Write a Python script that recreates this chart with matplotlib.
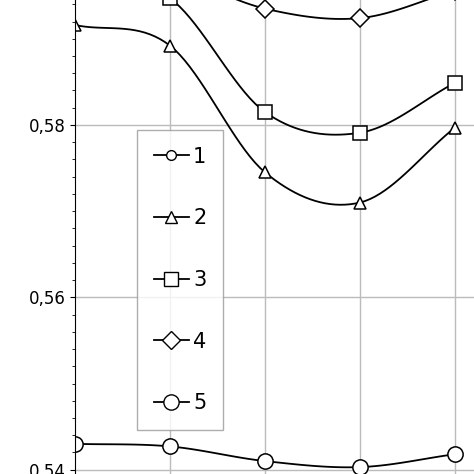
import numpy as np
import matplotlib
matplotlib.use("Agg")
import matplotlib.pyplot as plt

x = [1, 2, 3, 4, 5]
s1 = [0.6010, 0.6020, 0.6000, 0.5990, 0.6005]
s2 = [0.5916, 0.5892, 0.5745, 0.5710, 0.5797]
s3 = [0.5975, 0.5947, 0.5815, 0.5791, 0.5849]
s4 = [0.5990, 0.5975, 0.5935, 0.5924, 0.5956]
s5 = [0.5430, 0.5427, 0.5410, 0.5403, 0.5418]
labels = ["1", "2", "3", "4", "5"]
markers = ["o", "^", "s", "D", "o"]
msizes = [7, 9, 10, 9, 11]

def smooth(xs, ys, n=20):
    xs = np.asarray(xs, float); ys = np.asarray(ys, float)
    m = np.gradient(ys, xs)
    ox, oy = [], []
    for i in range(len(xs) - 1):
        t = np.linspace(0, 1, n)
        h = xs[i+1] - xs[i]
        h00 = 2*t**3 - 3*t**2 + 1; h10 = t**3 - 2*t**2 + t
        h01 = -2*t**3 + 3*t**2; h11 = t**3 - t**2
        ox.extend(xs[i] + t*h)
        oy.extend(h00*ys[i] + h10*h*m[i] + h01*ys[i+1] + h11*h*m[i+1])
    return ox, oy

fig = plt.figure(figsize=(4.74, 4.74), dpi=100)
ax = fig.add_axes([75/474, 0, 1 - 75/474, 1])
for ys, lab, mk, ms in zip([s1, s2, s3, s4, s5], labels, markers, msizes):
    sx, sy = smooth(x, ys)
    ax.plot(sx, sy, color="black", lw=1.3)
    ax.plot(x, ys, linestyle="none", marker=mk, ms=ms, mfc="white", mec="black", mew=1.1)
    ax.plot([], [], color="black", lw=1.3, marker=mk, ms=ms, mfc="white", mec="black", label=lab)

ax.set_xlim(1, 5.2)
ax.set_ylim(0.5395, 0.5945)
ax.set_yticks([0.54, 0.56, 0.58])
ax.set_yticklabels(["0,54", "0,56", "0,58"], fontsize=12)
ax.set_yticks(np.arange(0.54, 0.595, 0.002), minor=True)
ax.set_xticks([2, 3, 4, 5])
ax.set_xticklabels([])
ax.tick_params(axis="x", length=0)
ax.grid(True, color="#bbbbbb", lw=1)
for s in ["top", "right", "bottom"]:
    ax.spines[s].set_visible(False)
leg = ax.legend(loc="upper left", bbox_to_anchor=(0.155, 0.726), fontsize=15,
                frameon=True, fancybox=False, edgecolor="#999999",
                labelspacing=2.0, handlelength=1.7, handletextpad=0.2,
                borderpad=0.8, borderaxespad=0)
fig.savefig("out.png", dpi=100)
